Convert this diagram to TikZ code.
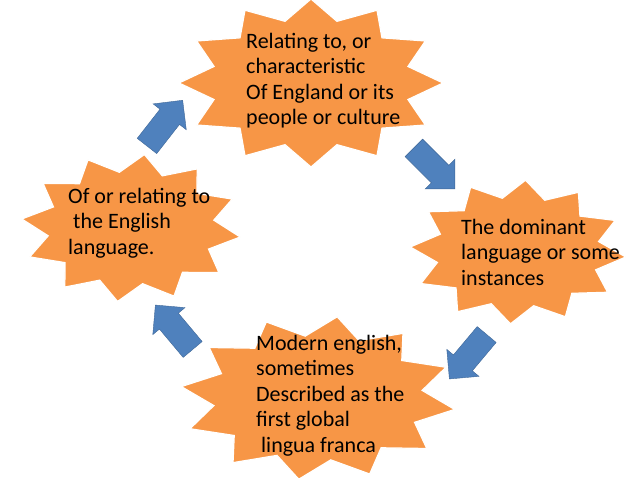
\documentclass[tikz,border=0pt]{standalone}
\usepackage{fontspec}
\setmainfont{Carlito}
\usetikzlibrary{shapes.arrows}
\definecolor{starfill}{HTML}{F79646}
\definecolor{arrowblue}{HTML}{4F81BD}
\newcommand\burst[5]{%
  \fill[starfill,draw=white,line width=1.2pt,line join=miter]
  plot[samples at={0,15,...,345}]
  ({#1+#3*(1-0.24*mod(round(\x/15),2))*cos(\x+#5)},{#2+#4*(1-0.24*mod(round(\x/15),2))*sin(\x+#5)}) -- cycle;}
\begin{document}
\begin{tikzpicture}[x=1pt,y=-1pt,
  txt/.style={anchor=north west,inner sep=0pt,align=left,font=\fontsize{22}{25.5}\selectfont},
  arr/.style={single arrow,fill=arrowblue,draw=arrowblue!80!black,line width=0.4pt,
    minimum height=58pt,minimum width=42pt,inner xsep=0pt,inner ysep=10pt}]
\useasboundingbox (0,0) rectangle (638,478);
\burst{311}{83}{132}{84}{0}
\burst{131}{228}{110}{74}{7}
\burst{518}{252}{108}{72}{4}
\burst{318}{398}{138}{82}{8}
\node[txt] (t1) at (246,33) {Relating to, or\\characteristic\\Of England or its\\people or culture};
\node[txt] (t2) at (68,188) {Of or relating to\\\ the English\\language.};
\node[txt] (t3) at (461,219) {The dominant\\language or some\\instances};
\node[txt] (t4) at (256,335) {Modern english,\\sometimes\\Described as the\\first global\\\ lingua franca};
\node[arr,rotate=52] (a1) at (161,128) {};
\node[arr,rotate=-45] (a2) at (430,164) {};
\node[arr,rotate=-130] (a3) at (472,352) {};
\node[arr,rotate=130] (a4) at (178,332) {};
\end{tikzpicture}
\end{document}
